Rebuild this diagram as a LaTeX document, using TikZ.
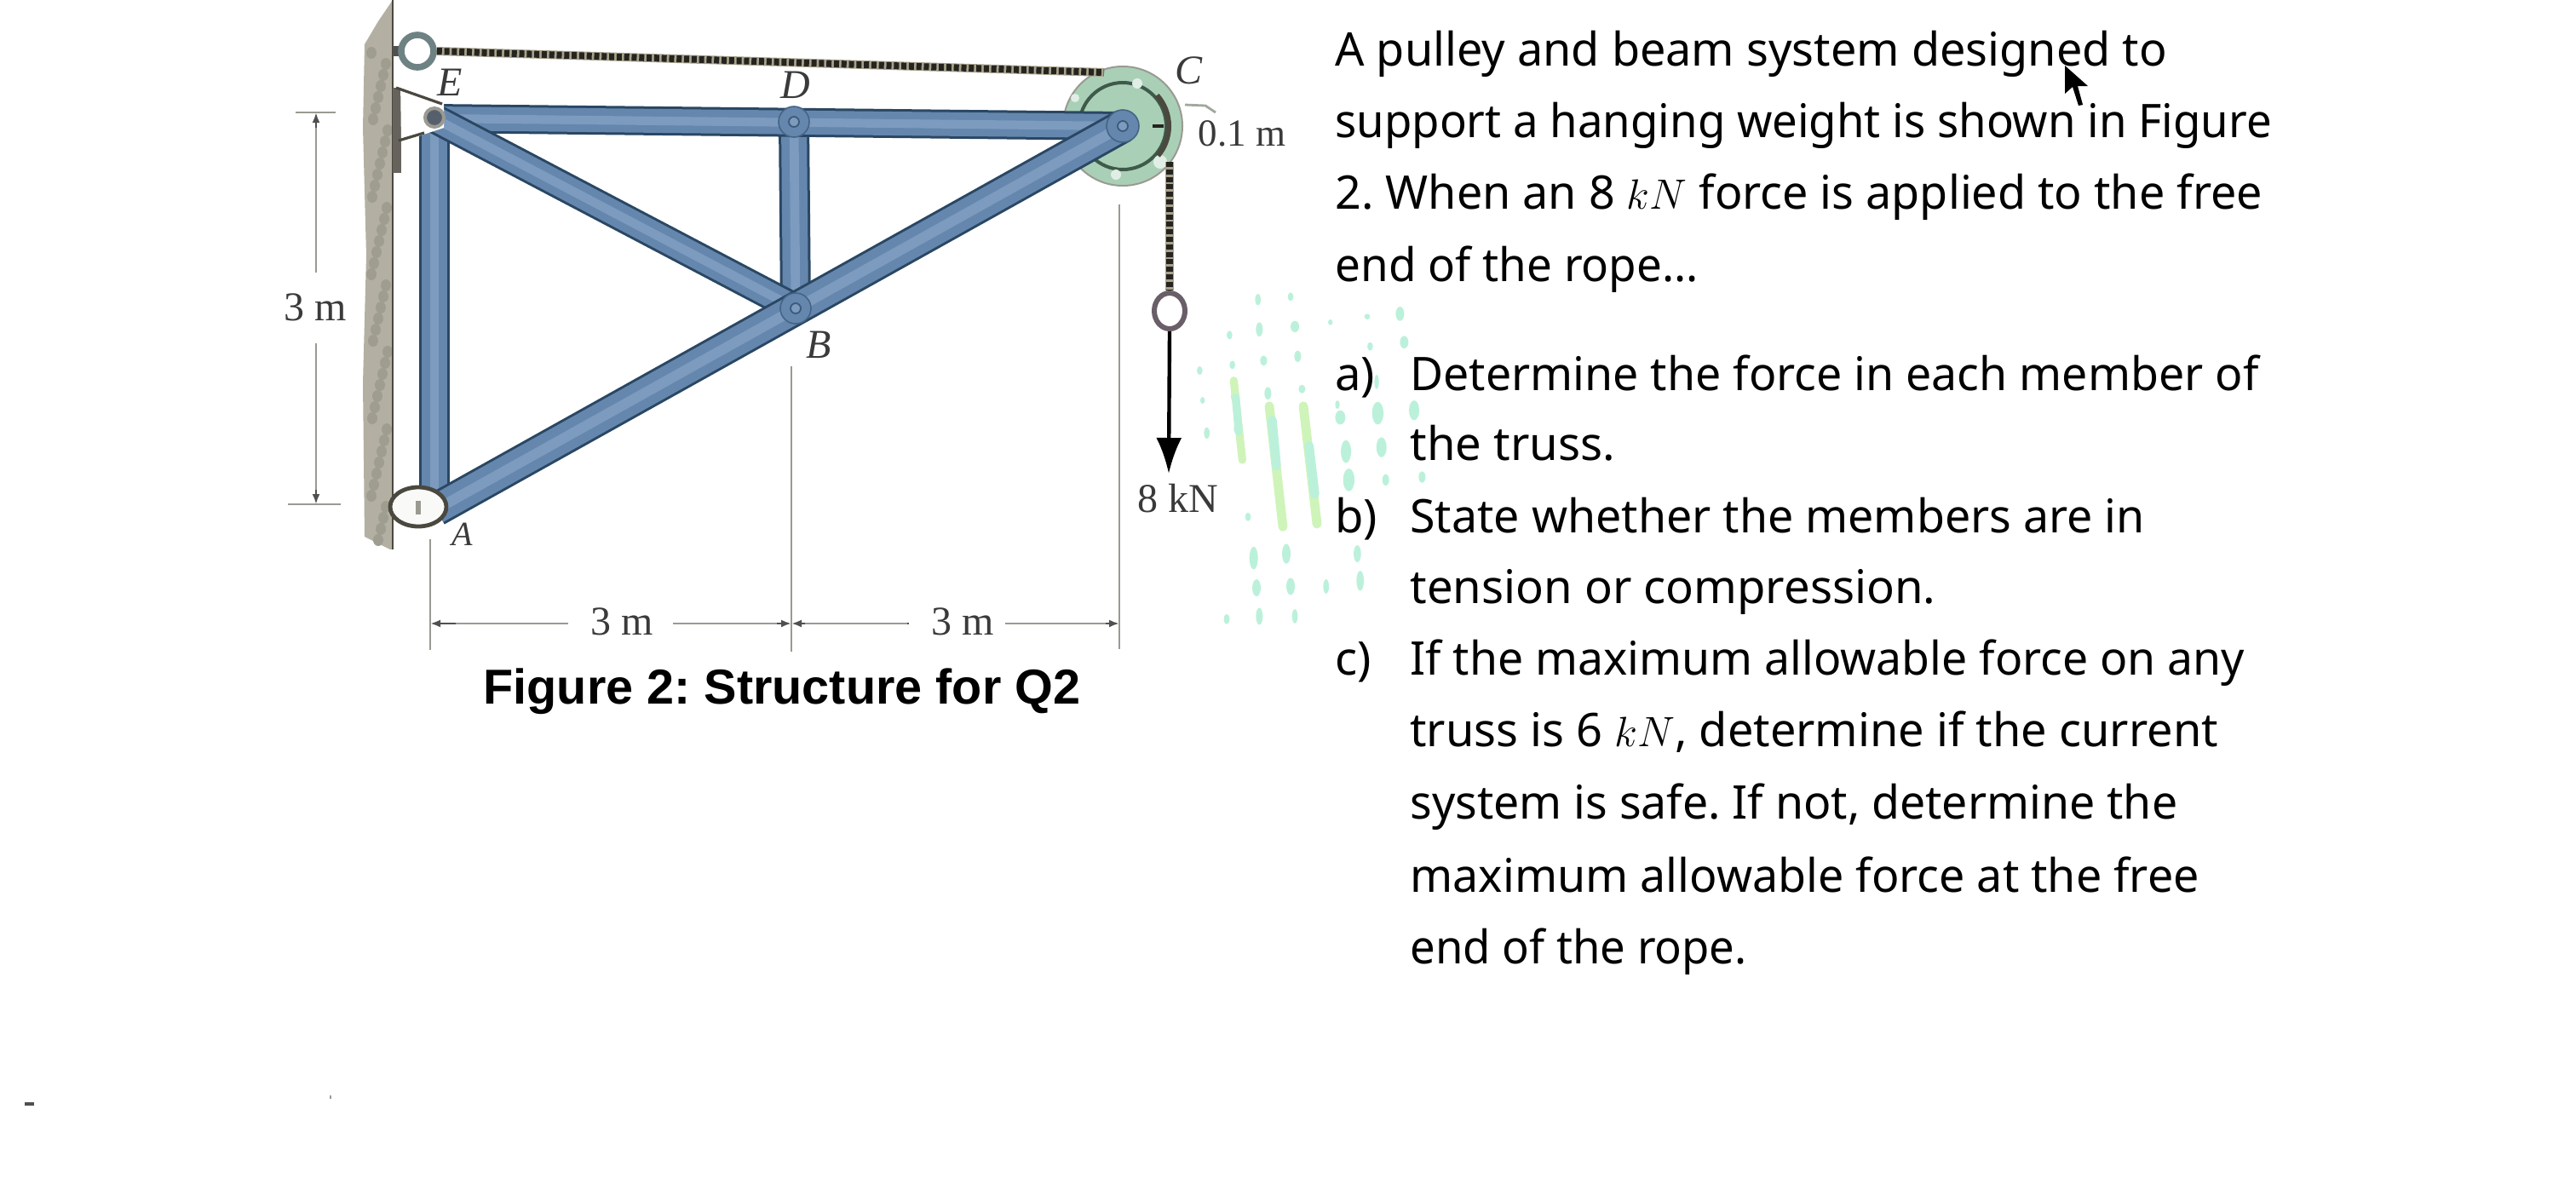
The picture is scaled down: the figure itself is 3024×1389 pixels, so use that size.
\documentclass[tikz,border=0pt]{standalone}
\usepackage{fontspec}
\usepackage{graphicx}
\setmainfont{Noto Sans}
\newfontfamily\figserif{Liberation Serif}
\newfontfamily\capfont{Liberation Sans}
\usetikzlibrary{arrows.meta,shapes.geometric}
\frenchspacing
\definecolor{steel}{HTML}{6587AE}
\definecolor{steeldark}{HTML}{2A4763}
\definecolor{steellight}{HTML}{7C9BBE}
\definecolor{wallc}{HTML}{B3B0A3}
\definecolor{wallspot}{HTML}{9F9C90}
\definecolor{walledge}{HTML}{4A483F}
\definecolor{pulleyc}{HTML}{A9D0B6}
\definecolor{pulleyedge}{HTML}{3F5A4A}
\definecolor{dimc}{HTML}{9A9A92}
\definecolor{dimdark}{HTML}{505050}
\definecolor{lab}{HTML}{3A3A3A}
\definecolor{speck}{HTML}{BBF1DA}
\definecolor{speckb}{HTML}{CFF4B9}
\definecolor{ropeb}{HTML}{A8A28C}
\definecolor{roped}{HTML}{25241F}
\definecolor{ringc}{HTML}{6E8284}
\definecolor{ringd}{HTML}{6A5F68}
\tikzset{
  para/.style={anchor=base west,inner sep=0pt,font=\fontsize{27.2}{30}\selectfont,text=black},
  figlab/.style={inner sep=0pt,text=lab,font=\figserif\fontsize{24}{24}\selectfont},
  ptlab/.style={inner sep=0pt,text=lab,font=\figserif\itshape\fontsize{24}{24}\selectfont},
  dimline/.style={draw=dimc,line width=1.2pt},
  thinline/.style={draw=dimc,line width=0.8pt},
  dimtip/.style={-{Latex[length=6pt,width=4.5pt]},draw=dimc,line width=1.3pt,color=dimdark},
  ropebase/.style={draw=ropeb,line width=5pt},
  ropedash/.style={draw=roped,line width=4pt,dash pattern=on 3pt off 1.4pt},
  ring/.style={ellipse,draw=#1,line width=3.8pt,fill=white,inner sep=0pt},
  pinhub/.style={circle,draw=steeldark!55!steel,line width=0.8pt,fill=steel,inner sep=0pt,minimum size=18pt},
  pinc/.style={circle,draw=steeldark!70!steel,line width=0.9pt,fill=steellight,inner sep=0pt,minimum size=6pt},
  speckfill/.style={fill=speck,draw=none},
}
\newcommand{\barmember}[3]{%
  \draw[steeldark,line width=#3pt] (#1) -- (#2);
  \draw[steel,line width=#3pt-3pt] (#1) -- (#2);
  \draw[steellight,line width=#3pt*0.3] (#1) -- (#2);
}
\newcommand{\sx}[2]{\scalebox{#1}[1]{#2}}
\begin{document}
\begin{tikzpicture}[x=0.5pt,y=-0.5pt]
\useasboundingbox (0,0) rectangle (3024,1389);
\fill[white] (0,0) rectangle (3024,1389);

% joints
\coordinate (E) at (510,139);
\coordinate (D) at (932,143);
\coordinate (C) at (1318,148);
\coordinate (B) at (934,362);
\coordinate (A) at (512,598);
\coordinate (Av) at (510,585);
\coordinate (Vt) at (510,150);
\coordinate (ptop) at (1296,85);
\coordinate (pside) at (1373,190);

% speckle
\begin{scope}[shift={(1380,280)},x=0.1667pt,y=-0.1667pt]
\foreach \px/\py/\ra/\rb in {295/320/12/25,310/430/12/18,325/545/12/22,420/310/15/20,430/415/12/20,445/530/12/15,210/555/15/25,220/670/15/20,190/340/10/15,200/445/10/15,290/215/10/20,405/205/10/15,85/465/10/15,95/570/8/12,110/685/10/20,790/265/15/25,805/365/15/22,685/380/10/15,708/505/8/25,712/615/20/40,840/605/18/35,725/735/18/35,580/630/18/25,570/585/8/15,600/750/18/40,610/850/20/40,740/850/12/20,868/840/12/20,275/1125/15/40,285/1230/15/30,390/1110/15/35,405/1225/15/30,640/1110/13/30,650/1205/13/35,530/1225/10/25,180/1340/10/18,295/1330/12/30,420/1330/10/25,255/980/10/15,675/275/10/10,545/295/8/10}
  {\fill[speckfill] (\px,\py) ellipse ({\ra} and {\rb});}
\draw[speckb,line width=4.6pt,line cap=round] (205,500) -- (235,780);
\draw[speck,line width=4.6pt,line cap=round] (212,560) -- (222,680);
\draw[speckb,line width=5.4pt,line cap=round] (330,590) -- (378,1015);
\draw[speck,line width=5.4pt,line cap=round] (340,640) -- (355,800);
\draw[speckb,line width=5.4pt,line cap=round] (450,590) -- (498,1005);
\draw[speck,line width=5.4pt,line cap=round] (470,730) -- (490,900);
\end{scope}

% wall
\fill[wallc] (461,0) -- (444,25) -- (428,52) -- (426,150) -- (430,300) -- (426,450) -- (428,630) -- (458,645) -- (461,645) -- cycle;
\foreach \i in {0,...,44} {
  \pgfmathsetmacro{\wx}{436+mod(\i*17,20)}
  \pgfmathsetmacro{\wy}{62+\i*13}
  \fill[wallspot] (\wx,\wy) ellipse (6 and 7);
}
\draw[walledge,line width=1.4pt] (461,0) -- (461,645);
\fill[walledge!85] (461,103) rectangle (471,203);

% pulley
\node[circle,draw=dimc,line width=1pt,fill=pulleyc,inner sep=0pt,minimum size=70pt] (pulley) at (C) {};
\draw[pulleyedge,line width=2pt] (C) circle (51);
\fill[white!65!pulleyc] (1362,190) circle (8);
\fill[white!65!pulleyc] (1310,205) circle (6);
\fill[white!65!pulleyc] (1335,98) circle (6);
\fill[white!65!pulleyc] (1262,115) circle (5);
\draw[roped,line width=2pt] (1353,148) -- (1366,148);
\draw[walledge,line width=3pt] (C) ++(0:54) arc (0:40:54);
\draw[walledge,line width=3pt] (C) ++(0:54) arc (0:-42:54);

% members
\barmember{Av}{Vt}{18}
\barmember{D}{B}{18}
\barmember{E}{C}{17}
\barmember{E}{B}{17.5}
\barmember{A}{C}{20}
\node[pinhub] (Dhub) at (D) {};
\node[pinhub] (Bhub) at (B) {};
\node[pinhub,minimum size=19pt] (Chub) at (C) {};
\node[pinc] (Dpin) at (D) {};
\node[pinc] (Bpin) at (B) {};
\node[pinc] (Cpin) at (C) {};

% E bracket
\fill[white] (470,95) -- (521,115) -- (521,150) -- (500,157) -- (471,167) -- cycle;
\draw[walledge,line width=1.6pt] (465,103) -- (519,122);
\draw[walledge,line width=1.6pt] (468,165) -- (498,156);
\node[circle,draw=dimc,line width=2pt,fill=dimdark!70!steel,inner sep=0pt,minimum size=11pt] (Epin) at (510,138) {};

% A bracket
\node[ellipse,draw=walledge,line width=2.4pt,fill=white!92!wallc,inner sep=0pt,minimum width=33pt,minimum height=23pt] (Abr) at (491,595) {};
\fill[dimc] (488,588) rectangle (494,604);

% rope and rings
\fill[dimdark] (461,54) rectangle (471,66);
\node[ring=ringc,minimum width=19pt,minimum height=19pt] (eye) at (490,60) {};
\draw[ropebase] (eye.east) -- (ptop);
\draw[ropedash] (eye.east) -- (ptop);
\node[ring=ringd,minimum width=18pt,minimum height=21pt,line width=3pt] (lowring) at (1373,365) {};
\draw[ropebase] (pside) -- (lowring.north);
\draw[ropedash] (pside) -- (lowring.north);
\coordinate (tip) at (1372,556);
\draw[black,line width=2.2pt,-{Latex[length=21pt,width=15pt]}] (lowring.south) -- (tip);

% vertical dimension
\coordinate (vt) at (371,132);
\coordinate (vb) at (371,592);
\draw[dimline] (347,132) -- (394,132);
\draw[dimline] (338,592) -- (400,592);
\draw[dimtip] (371,320) -- (vt);
\draw[dimline] (371,320) -- (371,150);
\draw[dimtip] (371,403) -- (vb);
\draw[dimline] (371,403) -- (371,575);
\node[figlab] (lv) at (370,361) {3 m};

% horizontal dimension
\coordinate (xa) at (505,732);
\coordinate (xb) at (929,732);
\coordinate (xc) at (1314,732);
\draw[thinline] (505,633) -- (505,763);
\draw[thinline] (929,430) -- (929,765);
\draw[thinline] (1314,240) -- (1314,762);
\node[figlab] (lh1) at (730,730) {3 m};
\node[figlab] (lh2) at (1130,730) {3 m};
\draw[dimtip] (lh1.west) ++(-26,2) -- (xa);
\draw[dimline] (535,732) -- (667,732);
\draw[dimtip] (lh1.east) ++(23,2) -- (xb);
\draw[dimline] (790,732) -- (912,732);
\draw[dimtip] (lh2.west) ++(-26,2) -- (xb);
\draw[dimline] (945,732) -- (1065,732);
\draw[dimtip] (lh2.east) ++(16,2) -- (xc);
\draw[dimline] (1180,732) -- (1298,732);

% 0.1 m leader
\draw[dimc!70!pulleyc,line width=1.4pt] (1391,123) -- (1415,124) -- (1427,132);
\node[figlab,font=\figserif\fontsize{22.5}{22.5}\selectfont] (l01) at (1458,157) {0.1 m};
\node[figlab] (l8) at (1383,585) {8 kN};

% point labels
\node[ptlab] (lE) at (528,97) {E};
\node[ptlab] (lD) at (934,100) {D};
\node[ptlab] (lC) at (1395,83) {C};
\node[ptlab] (lB) at (961,405) {B};
\node[ptlab,font=\figserif\itshape\fontsize{20}{20}\selectfont] (lA) at (543,627) {A};

% caption
\node[anchor=base,inner sep=0pt,text=black,font=\capfont\bfseries\fontsize{28.8}{28.8}\selectfont] (cap) at (918,826) {Figure 2: Structure for Q2};

% text
\node[para] (t1) at (1567,77) {\sx{.992}{A pulley and beam system designed to}};
\node[para] (t2) at (1567,161) {\sx{.969}{support a hanging weight is shown in Figure}};
\node[para] (t3) at (1567,245) {\sx{.99}{2. When an 8 $kN$ force is applied to the free}};
\node[para] (t4) at (1567,330) {\sx{.974}{end of the rope...}};
\node[para] (t5) at (1567,458) {a)};
\node[para] (t6) at (1655,458) {\sx{.986}{Determine the force in each member of}};
\node[para] (t7) at (1655,540) {the truss.};
\node[para] (t8) at (1567,625) {b)};
\node[para] (t9) at (1655,625) {\sx{.987}{State whether the members are in}};
\node[para] (t10) at (1655,708) {tension or compression.};
\node[para] (t11) at (1567,792) {c)};
\node[para] (t12) at (1655,792) {\sx{.984}{If the maximum allowable force on any}};
\node[para] (t13) at (1655,876) {\sx{.994}{truss is 6 $kN$, determine if the current}};
\node[para] (t14) at (1655,961) {\sx{.985}{system is safe. If not, determine the}};
\node[para] (t15) at (1655,1047) {\sx{.988}{maximum allowable force at the free}};
\node[para] (t16) at (1655,1131) {\sx{.967}{end of the rope.}};

% cursor
\fill[black] (2424,77) -- (2424,110) -- (2433,102) -- (2440,124) -- (2445,123) -- (2439,101) -- (2451,101) -- cycle;

% stray marks
\fill[dimdark] (29,1294) rectangle (40,1298);
\fill[dimc] (387,1286) rectangle (389,1290);
\end{tikzpicture}
\end{document}
